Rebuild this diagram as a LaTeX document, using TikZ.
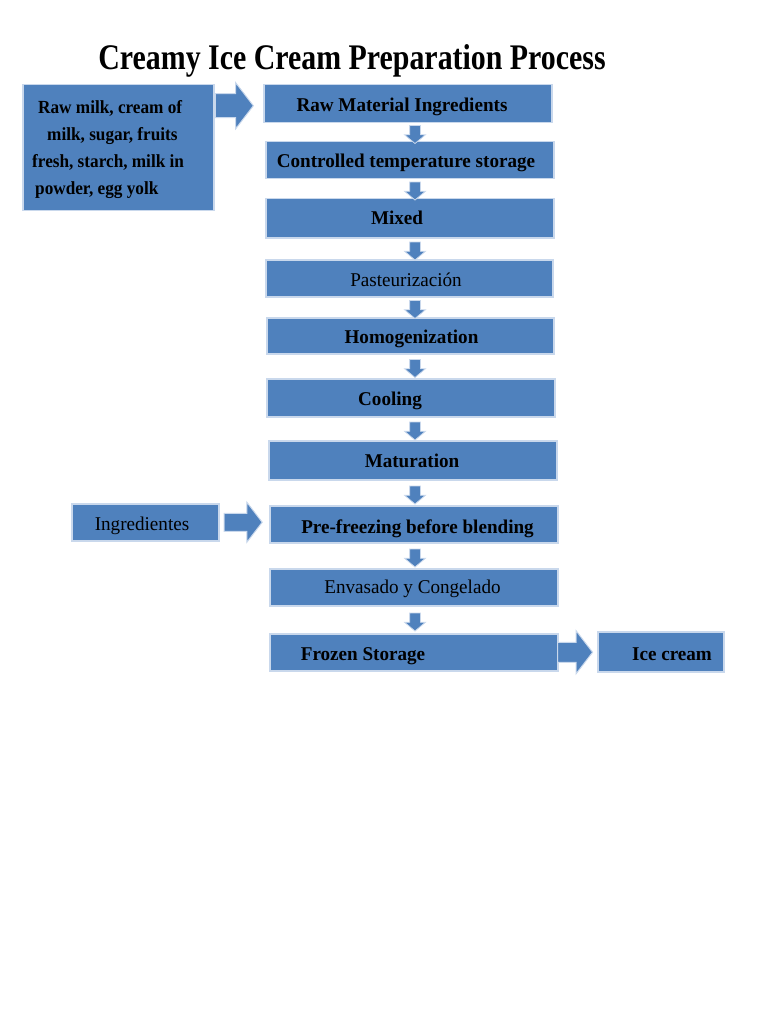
\documentclass[tikz,border=0pt]{standalone}
\usepackage{fontspec}
\setmainfont{Liberation Serif}
\newfontfamily\titlefont{Liberation Serif}[FakeStretch=0.83,BoldFont={Liberation Serif Bold}]
\newfontfamily\labfont{Liberation Serif}[FakeStretch=0.98,BoldFont={Liberation Serif Bold}]
\newfontfamily\srcfont{Liberation Serif}[FakeStretch=0.93,BoldFont={Liberation Serif Bold}]
\usetikzlibrary{shapes.arrows,calc}
\definecolor{boxblue}{HTML}{4F81BD}
\definecolor{boxedge}{HTML}{C9D8EC}
\tikzset{
  box/.style={rectangle, fill=boxblue, draw=boxedge, line width=1.5pt, anchor=north west, inner sep=0pt},
  lab/.style={anchor=base, inner sep=0pt, font=\labfont\fontsize{19.5}{23}\selectfont\bfseries},
  labr/.style={anchor=base, inner sep=0pt, font=\labfont\fontsize{19.5}{23}\selectfont},
  srclab/.style={anchor=north west, inner sep=0pt, align=left, font=\srcfont\fontsize{18.5}{23}\selectfont\bfseries},
  downarr/.style={single arrow, shape border rotate=270, fill=boxblue, draw=boxedge, line width=0.8pt,
     minimum height=18pt, minimum width=0pt, inner ysep=0pt, inner xsep=5pt,
     single arrow head extend=5pt, single arrow tip angle=100},
  bigarr/.style={single arrow, fill=boxblue, draw=boxedge, line width=1pt,
     minimum width=0pt, inner xsep=0pt, single arrow tip angle=105},
}
\begin{document}
\begin{tikzpicture}[x=1pt,y=-1pt]
\useasboundingbox (0,0) rectangle (768,1024);
% title
\node[anchor=base, inner sep=0pt, font=\titlefont\fontsize{36}{40}\selectfont\bfseries] (title) at (352,70) {Creamy Ice Cream Preparation Process};
% boxes
\node[box, minimum width=191pt, minimum height=126pt] (src) at (22,84) {};
\node[box, minimum width=288pt, minimum height=38pt] (raw) at (263,84) {};
\node[box, minimum width=288pt, minimum height=37pt] (ctl) at (265,141) {};
\node[box, minimum width=288pt, minimum height=39pt] (mix) at (265,198) {};
\node[box, minimum width=287pt, minimum height=37pt] (pas) at (265,259) {};
\node[box, minimum width=287pt, minimum height=36pt] (hom) at (266,317) {};
\node[box, minimum width=288pt, minimum height=38pt] (coo) at (266,378) {};
\node[box, minimum width=288pt, minimum height=39pt] (mat) at (268,440) {};
\node[box, minimum width=288pt, minimum height=37pt] (pre) at (269,505) {};
\node[box, minimum width=288pt, minimum height=37pt] (env) at (269,568) {};
\node[box, minimum width=288pt, minimum height=37pt] (fro) at (269,633) {};
\node[box, minimum width=126pt, minimum height=40pt] (ice) at (597,631) {};
\node[box, minimum width=147pt, minimum height=37pt] (ing) at (71,503) {};
% labels
\node[srclab] (srcT) at (32,100) {\hspace*{6pt}Raw milk, cream of\\[4pt]\hspace*{15pt}milk, sugar, fruits\\[4pt]fresh, starch, milk in\\[4pt]\hspace*{3pt}powder, egg yolk};
\node[lab] (rawT) at (402,112) {Raw Material Ingredients};
\node[lab] (ctlT) at (406,168) {Controlled temperature storage};
\node[lab] (mixT) at (397,225) {Mixed};
\node[labr] (pasT) at (406,286) {Pasteurización};
\node[lab] (homT) at (411.5,343) {Homogenization};
\node[lab] (cooT) at (390,405) {Cooling};
\node[lab] (matT) at (412,467) {Maturation};
\node[lab] (preT) at (417.5,533) {Pre-freezing before blending};
\node[labr] (envT) at (412.5,593) {Envasado y Congelado};
\node[lab] (froT) at (363,660) {Frozen Storage};
\node[lab] (iceT) at (672,660) {Ice cream};
\node[labr] (ingT) at (142,530) {Ingredientes};
% small down arrows
\coordinate (ax) at (415,0);
\path (raw.south -| ax) -- node[downarr]{} (ctl.north -| ax);
\path (ctl.south -| ax) -- node[downarr]{} (mix.north -| ax);
\path (mix.south -| ax) -- node[downarr]{} (pas.north -| ax);
\path (pas.south -| ax) -- node[downarr]{} (hom.north -| ax);
\path (hom.south -| ax) -- node[downarr]{} (coo.north -| ax);
\path (coo.south -| ax) -- node[downarr]{} (mat.north -| ax);
\path (mat.south -| ax) -- node[downarr]{} (pre.north -| ax);
\path (pre.south -| ax) -- node[downarr]{} (env.north -| ax);
\path (env.south -| ax) -- node[downarr]{} (fro.north -| ax);
% big right arrows
\path ($(src.east |- raw.west)+(0,2)$) -- node[bigarr, xshift=-9pt, minimum height=38pt, inner ysep=11.5pt, single arrow head extend=11pt]{} ($(raw.west)+(0,2)$);
\path (ing.east) -- node[bigarr, xshift=-4.5pt, minimum height=38pt, inner ysep=8.5pt, single arrow head extend=11pt]{} (pre.west |- ing.east);
\path (fro.east) -- node[bigarr, xshift=-6.5pt, minimum height=35pt, inner ysep=9.5pt, single arrow head extend=11.5pt]{} (ice.west |- fro.east);
\end{tikzpicture}
\end{document}
